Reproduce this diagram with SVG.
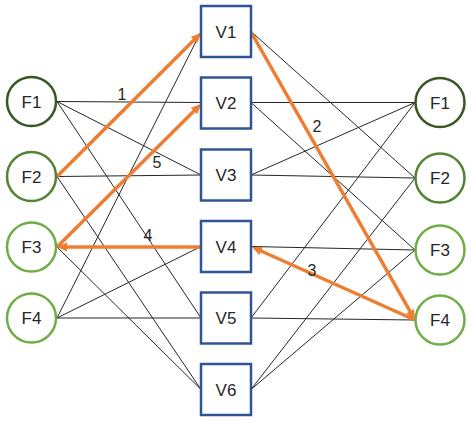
<svg xmlns="http://www.w3.org/2000/svg" width="474" height="425" viewBox="0 0 474 425">
<style>
.box{fill:#fff;stroke:#2F5597;stroke-width:2.5}
.c{fill:#fff;stroke-width:2.5}
.d1{stroke:#385723}
.d2{stroke:#548235}
.d3{stroke:#70AD47}
.t{font-family:"Liberation Sans",Arial,sans-serif;font-size:17px;fill:#262626;text-anchor:middle}
.n{font-family:"Liberation Sans",Arial,sans-serif;font-size:16px;fill:#262626;text-anchor:middle}
.e{stroke:#262626;stroke-width:1;fill:none}
.o{stroke:#ED7D31;stroke-width:3.5;fill:none;marker-end:url(#ah)}
</style>
<defs>
<marker id="ah" markerUnits="userSpaceOnUse" markerWidth="11" markerHeight="10" refX="5" refY="4.5" orient="auto">
<path d="M0,0 L10,4.5 L0,9 z" fill="#ED7D31"/>
</marker>
</defs>
<rect width="474" height="425" fill="#fff"/>
<g id="connectors">
<line class="e" x1="57" y1="101.5" x2="201" y2="102.5"/>
<line class="e" x1="57" y1="101.5" x2="201" y2="175"/>
<line class="e" x1="57" y1="101.5" x2="201" y2="318"/>
<line class="e" x1="57" y1="176.5" x2="201" y2="175"/>
<line class="e" x1="57" y1="176.5" x2="201" y2="389.5"/>
<line class="e" x1="57" y1="247" x2="201" y2="389.5"/>
<line class="e" x1="57" y1="318" x2="201" y2="31.5"/>
<line class="e" x1="57" y1="318" x2="201" y2="246.5"/>
<line class="e" x1="57" y1="318" x2="201" y2="318"/>
<line class="e" x1="251" y1="31.5" x2="415" y2="178"/>
<line class="e" x1="251" y1="102.5" x2="415" y2="102.5"/>
<line class="e" x1="251" y1="102.5" x2="415" y2="250"/>
<line class="e" x1="251" y1="175" x2="415" y2="102.5"/>
<line class="e" x1="251" y1="175" x2="415" y2="178"/>
<line class="e" x1="251" y1="246.5" x2="415" y2="250"/>
<line class="e" x1="251" y1="318" x2="415" y2="102.5"/>
<line class="e" x1="251" y1="318" x2="415" y2="320"/>
<line class="e" x1="251" y1="389.5" x2="415" y2="178"/>
<line class="e" x1="251" y1="389.5" x2="415" y2="250"/>
<line class="o" x1="57" y1="176.5" x2="197.5" y2="36.5"/>
<line class="o" x1="57" y1="247" x2="197.5" y2="107.5"/>
<line class="o" x1="201" y1="247" x2="62" y2="247"/>
<line class="o" x1="251" y1="32" x2="412.5" y2="315.6"/>
<line class="o" x1="415" y1="320" x2="256.6" y2="249"/>
<text class="n" x="122" y="100">1</text>
<text class="n" x="317" y="132">2</text>
<text class="n" x="312" y="276">3</text>
<text class="n" x="148" y="241">4</text>
<text class="n" x="157" y="168">5</text>
</g>
<g id="LF1"><circle class="c d1" cx="31.5" cy="101.5" r="24.5"/><text class="t" x="31.5" y="107.5">F1</text></g>
<g id="LF2"><circle class="c d2" cx="31.5" cy="176.5" r="24.5"/><text class="t" x="31.5" y="182.5">F2</text></g>
<g id="LF3"><circle class="c d3" cx="31.5" cy="247" r="24.5"/><text class="t" x="31.5" y="253">F3</text></g>
<g id="LF4"><circle class="c d3" cx="31.5" cy="318" r="24.5"/><text class="t" x="31.5" y="324">F4</text></g>
<g id="V1"><rect class="box" x="201" y="6" width="50" height="51"/><text class="t" x="226" y="37.5">V1</text></g>
<g id="V2"><rect class="box" x="201" y="77.5" width="50" height="51"/><text class="t" x="226" y="109">V2</text></g>
<g id="V3"><rect class="box" x="201" y="149.5" width="50" height="51"/><text class="t" x="226" y="181">V3</text></g>
<g id="V4"><rect class="box" x="201" y="221" width="50" height="51"/><text class="t" x="226" y="252.5">V4</text></g>
<g id="V5"><rect class="box" x="201" y="292.5" width="50" height="51"/><text class="t" x="226" y="324">V5</text></g>
<g id="V6"><rect class="box" x="201" y="364" width="50" height="51"/><text class="t" x="226" y="395.5">V6</text></g>
<g id="RF1"><circle class="c d1" cx="440" cy="102.5" r="24.5"/><text class="t" x="440" y="108.5">F1</text></g>
<g id="RF2"><circle class="c d2" cx="440" cy="178" r="24.5"/><text class="t" x="440" y="184">F2</text></g>
<g id="RF3"><circle class="c d3" cx="440" cy="250" r="24.5"/><text class="t" x="440" y="256">F3</text></g>
<g id="RF4"><circle class="c d3" cx="440" cy="320" r="24.5"/><text class="t" x="440" y="326">F4</text></g>
</svg>
